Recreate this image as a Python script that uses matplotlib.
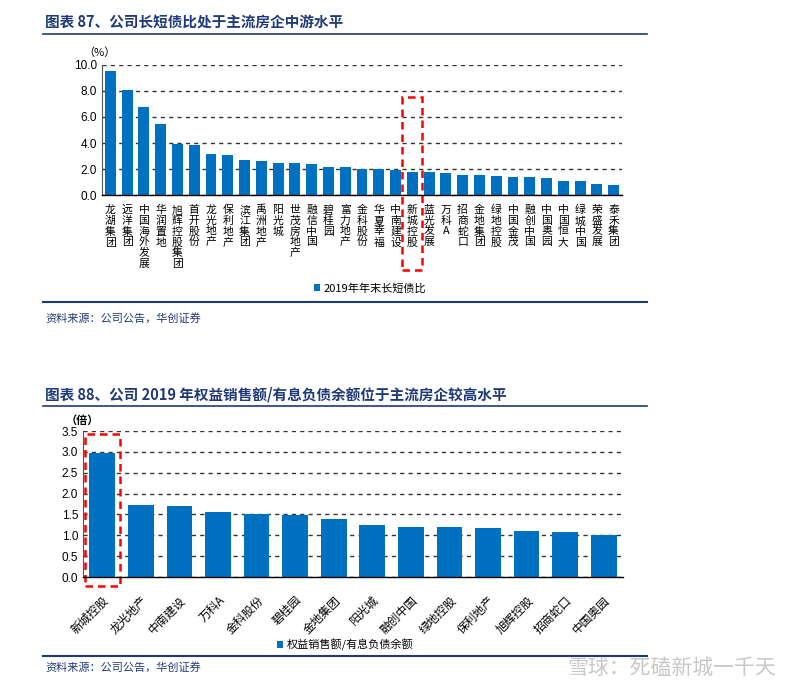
import matplotlib.pyplot as plt
from matplotlib.patches import Rectangle

plt.rcParams['font.family'] = ['Noto Sans CJK SC', 'DejaVu Sans']

# chart 1: long/short debt ratio at end of 2019 (%)
firms1 = ["龙湖集团", "远洋集团", "中国海外发展", "华润置地", "旭辉控股集团", "首开股份",
          "龙光地产", "保利地产", "滨江集团", "禹洲地产", "阳光城", "世茂房地产", "融信中国",
          "碧桂园", "富力地产", "金科股份", "华夏幸福", "中南建设", "新城控股", "蓝光发展",
          "万科A", "招商蛇口", "金地集团", "绿地控股", "中国金茂", "融创中国", "中国奥园",
          "中国恒大", "绿城中国", "荣盛发展", "泰禾集团"]
ratio1 = [9.50, 8.04, 6.79, 5.46, 3.93, 3.83, 3.16, 3.06, 2.70, 2.65, 2.47, 2.45, 2.40,
          2.17, 2.17, 2.04, 1.99, 1.91, 1.79, 1.76, 1.71, 1.58, 1.56, 1.51, 1.43, 1.38,
          1.30, 1.12, 1.07, 0.89, 0.77]

# chart 2: equity sales / interest-bearing debt (times)
firms2 = ["新城控股", "龙光地产", "中南建设", "万科A", "金科股份", "碧桂园", "金地集团",
          "阳光城", "融创中国", "绿地控股", "保利地产", "旭辉控股", "招商蛇口", "中国奥园"]
ratio2 = [2.97, 1.72, 1.71, 1.57, 1.51, 1.48, 1.40, 1.24, 1.19, 1.19, 1.17, 1.11, 1.09, 1.00]

blue = "#0070C0"
navy = "#1F3A78"
W, H = 800, 699

fig = plt.figure(figsize=(8, 6.99), dpi=100)


def fx(px):
    return px / W


def fy(py):
    return 1 - py / H


def style_axes(ax):
    ax.set_axisbelow(True)
    ax.yaxis.grid(True, linestyle=(0, (3, 3)), color="#333333", linewidth=1.0)
    for s in ["top", "right"]:
        ax.spines[s].set_visible(False)
    ax.spines["bottom"].set_color("black")
    ax.spines["bottom"].set_linewidth(1.0)
    ax.spines["left"].set_color("#555555")
    ax.tick_params(axis="both", length=0)
    for t in ax.get_yticklabels():
        t.set_family(["Liberation Sans", "DejaVu Sans"])
        t.set_fontsize(8.5)


# ---------- chart 1 ----------
fig.text(fx(45), fy(22), "图表 87、公司长短债比处于主流房企中游水平",
         fontsize=10.5, fontweight="bold", color=navy, va="center")
fig.add_artist(plt.Line2D([fx(43), fx(647)], [fy(34), fy(34)], color=navy, lw=1.2))

ax1 = fig.add_axes([fx(102), fy(195.3), fx(520), 130.6 / H])
x1 = range(len(firms1))
ax1.bar(x1, ratio1, width=0.65, color=blue, label="2019年年末长短债比")
ax1.set_xlim(-0.5, len(firms1) - 0.5)
ax1.set_ylim(0, 10)
ax1.set_yticks([0, 2, 4, 6, 8, 10])
ax1.set_yticklabels([f"{v:.1f}" for v in [0, 2, 4, 6, 8, 10]])
ax1.set_xticks(list(x1))
ax1.set_xticklabels(["\n".join(n) for n in firms1], fontsize=7.8, linespacing=1.08,
                    va="top")
style_axes(ax1)
ax1.tick_params(axis="x", pad=7)
ax1.text(-1.6, 10.55, "（%）", fontsize=8, ha="left", va="bottom")
i1 = firms1.index("新城控股")
ax1.add_patch(Rectangle((i1 - 0.6, -5.72), 1.2, 7.53 + 5.72, fill=False, ec="red",
                        lw=1.8, ls=(0, (3, 2)), clip_on=False))
fig.legend(*ax1.get_legend_handles_labels(), loc="center", bbox_to_anchor=(fx(370), fy(288)),
           frameon=False, fontsize=8, handlelength=0.6, handleheight=0.6, handletextpad=0.3)
fig.add_artist(plt.Line2D([fx(43), fx(647)], [fy(302), fy(302)], color=navy, lw=1.5))
fig.text(fx(45), fy(318), "资料来源：公司公告，华创证券", fontsize=8, color=navy, va="center")

# ---------- chart 2 ----------
fig.text(fx(45), fy(394), "图表 88、公司 2019 年权益销售额/有息负债余额位于主流房企较高水平",
         fontsize=10.5, fontweight="bold", color=navy, va="center")
fig.add_artist(plt.Line2D([fx(43), fx(647)], [fy(406), fy(406)], color=navy, lw=1.2))

ax2 = fig.add_axes([fx(83), fy(577), fx(540), 146 / H])
x2 = range(len(firms2))
ax2.bar(x2, ratio2, width=0.67, color=blue, label="权益销售额/有息负债余额")
ax2.set_xlim(-0.5, len(firms2) - 0.5)
ax2.set_ylim(0, 3.5)
ax2.set_yticks([0, 0.5, 1, 1.5, 2, 2.5, 3, 3.5])
ax2.set_yticklabels([f"{v:.1f}" for v in [0, 0.5, 1, 1.5, 2, 2.5, 3, 3.5]])
ax2.set_xticks(list(x2))
ax2.set_xticklabels(firms2, rotation=45, ha="right", rotation_mode="anchor", fontsize=8.5)
style_axes(ax2)
ax2.tick_params(axis="x", pad=12)
ax2.text(-0.95, 3.6, "（倍）", fontsize=8, fontweight="bold", ha="left", va="bottom")
i2 = firms2.index("新城控股")
ax2.add_patch(Rectangle((i2 - 0.45, -0.22), 0.9, 3.43 + 0.22, fill=False, ec="red",
                        lw=1.8, ls=(0, (3, 2)), clip_on=False))
fig.legend(*ax2.get_legend_handles_labels(), loc="center", bbox_to_anchor=(fx(345), fy(645)),
           frameon=False, fontsize=8, handlelength=0.6, handleheight=0.6, handletextpad=0.3)
fig.add_artist(plt.Line2D([fx(43), fx(647)], [fy(656), fy(656)], color=navy, lw=1.5))
fig.text(fx(45), fy(667), "资料来源：公司公告，华创证券", fontsize=8, color=navy, va="center")

# watermark
fig.text(fx(776), fy(668), "雪球：死磕新城一千天", fontsize=15, color="#C8C8C8",
         ha="right", va="center")

fig.savefig("out.png", dpi=100)
